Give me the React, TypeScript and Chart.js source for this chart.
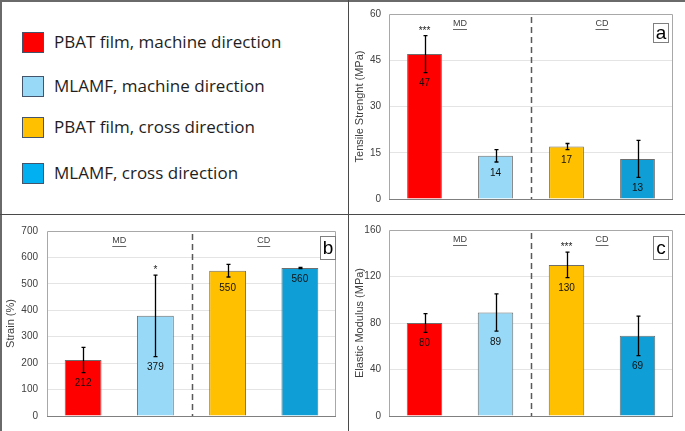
import React, { useEffect, useRef } from 'react';
import { Chart, registerables } from 'chart.js';

Chart.register(...registerables);

// Samples, in the order they are plotted in every panel
const seriesLabels = [
  'PBAT film, machine direction',
  'MLAMF, machine direction',
  'PBAT film, cross direction',
  'MLAMF, cross direction',
];
const barColors = ['#FF0000', '#97D9F6', '#FFC000', '#0F9ED5'];
const legendColors = ['#FF0000', '#97D9F6', '#FFC000', '#00B0F0'];
const groupLabels = ['MD', 'CD'];

// (a) tensile strength, MPa
const tensileMean = [47, 14, 17, 13];
const tensileErr = [6, 2, 1, 6];
const tensileSig = ['***', '', '', ''];

// (b) strain at break, %
const strainMean = [212, 379, 550, 560];
const strainErr = [48, 154, 24, 2];
const strainSig = ['', '*', '', ''];

// (c) elastic modulus, MPa
const modulusMean = [80, 89, 130, 69];
const modulusErr = [8, 16, 11, 17];
const modulusSig = ['', '', '***', ''];

const FONT = "'Liberation Sans', Arial, sans-serif";

type PanelSpec = {
  letter: string;
  title: string;
  mean: number[];
  err: number[];
  sig: string[];
  max: number;
  step: number;
  barPct: number;
  left: number;
  top: number;
  width: number;
  height: number;
  yWidth: number;
  padTop: number;
  tickPad: number;
  box: { w: number; h: number; dx: number; dy: number };
};

const panels: PanelSpec[] = [
  {
    letter: 'a', title: 'Tensile Strenght (MPa)',
    mean: tensileMean, err: tensileErr, sig: tensileSig,
    max: 60, step: 15, barPct: 0.49,
    left: 349, top: 0, width: 336, height: 214,
    yWidth: 40, padTop: 14, tickPad: 8,
    box: { w: 15, h: 19, dx: 5, dy: 9 },
  },
  {
    letter: 'b', title: 'Strain (%)',
    mean: strainMean, err: strainErr, sig: strainSig,
    max: 700, step: 100, barPct: 0.51,
    left: 0, top: 215, width: 348, height: 216,
    yWidth: 47, padTop: 16, tickPad: 9,
    box: { w: 15, h: 23, dx: 1, dy: 5 },
  },
  {
    letter: 'c', title: 'Elastic Modulus (MPa)',
    mean: modulusMean, err: modulusErr, sig: modulusSig,
    max: 160, step: 40, barPct: 0.5,
    left: 349, top: 215, width: 336, height: 216,
    yWidth: 40, padTop: 15, tickPad: 8,
    box: { w: 15, h: 23, dx: 5, dy: 6 },
  },
];

function makeDecor(spec: PanelSpec) {
  return {
    id: 'panelDecor' + spec.letter,
    beforeDatasetsDraw(chart: any) {
      const { ctx, chartArea: a, scales } = chart;
      const x = scales.x;
      ctx.save();
      // plot frame
      ctx.lineWidth = 1;
      ctx.strokeStyle = '#A8A8A8';
      ctx.beginPath();
      ctx.moveTo(a.left + 0.5, a.bottom);
      ctx.lineTo(a.left + 0.5, a.top + 0.5);
      ctx.lineTo(a.right - 0.5, a.top + 0.5);
      ctx.lineTo(a.right - 0.5, a.bottom);
      ctx.stroke();
      ctx.strokeStyle = '#7F7F7F';
      ctx.beginPath();
      ctx.moveTo(a.left, a.bottom + 0.5);
      ctx.lineTo(a.right, a.bottom + 0.5);
      ctx.stroke();
      // dashed separator between machine and cross direction
      const mid = (x.getPixelForValue(1) + x.getPixelForValue(2)) / 2;
      ctx.strokeStyle = '#595959';
      ctx.lineWidth = 1.5;
      ctx.setLineDash([6, 4]);
      ctx.beginPath();
      ctx.moveTo(Math.round(mid) + 0.5, a.top + 3);
      ctx.lineTo(Math.round(mid) + 0.5, a.bottom);
      ctx.stroke();
      ctx.setLineDash([]);
      ctx.restore();
    },
    afterDatasetsDraw(chart: any) {
      const { ctx, chartArea: a, scales } = chart;
      const x = scales.x;
      const y = scales.y;
      const meta = chart.getDatasetMeta(0);
      ctx.save();
      meta.data.forEach((bar: any, i: number) => {
        const v = spec.mean[i];
        const e = spec.err[i];
        const yt = y.getPixelForValue(v + e);
        const yb = y.getPixelForValue(v - e);
        const bx = Math.round(bar.x) + 0.5;
        ctx.strokeStyle = '#000';
        ctx.lineWidth = 1.3;
        ctx.beginPath();
        ctx.moveTo(bx, yt);
        ctx.lineTo(bx, yb);
        ctx.moveTo(bx - 2, yt);
        ctx.lineTo(bx + 2, yt);
        ctx.moveTo(bx - 2, yb);
        ctx.lineTo(bx + 2, yb);
        ctx.stroke();
        // value label under the lower whisker
        ctx.fillStyle = '#111';
        ctx.font = '10px ' + FONT;
        ctx.textAlign = 'center';
        ctx.textBaseline = 'middle';
        ctx.fillText(String(v), bar.x, yb + 11);
        // significance marks above the upper whisker
        if (spec.sig[i]) {
          ctx.fillStyle = '#222';
          ctx.font = '10px ' + FONT;
          ctx.textBaseline = 'alphabetic';
          ctx.fillText(spec.sig[i], bar.x, yt - 2);
        }
      });
      // group headings
      const groups = [
        (x.getPixelForValue(0) + x.getPixelForValue(1)) / 2,
        (x.getPixelForValue(2) + x.getPixelForValue(3)) / 2,
      ];
      ctx.font = '9px ' + FONT;
      ctx.fillStyle = '#404040';
      ctx.strokeStyle = '#404040';
      ctx.lineWidth = 0.8;
      ctx.textAlign = 'center';
      ctx.textBaseline = 'middle';
      groups.forEach((gx, gi) => {
        const ty = a.top + 10;
        ctx.fillText(groupLabels[gi], gx, ty);
        const w = ctx.measureText(groupLabels[gi]).width;
        ctx.beginPath();
        ctx.moveTo(gx - w / 2, ty + 5.5);
        ctx.lineTo(gx + w / 2, ty + 5.5);
        ctx.stroke();
      });
      // panel letter
      const b = spec.box;
      const rx = Math.round(a.right - b.dx - b.w) + 0.5;
      const ry = Math.round(a.top + b.dy) + 0.5;
      ctx.fillStyle = '#fff';
      ctx.fillRect(rx, ry, b.w, b.h);
      ctx.strokeStyle = '#7F7F7F';
      ctx.lineWidth = 1;
      ctx.strokeRect(rx, ry, b.w, b.h);
      ctx.fillStyle = '#000';
      ctx.font = '19px ' + FONT;
      ctx.textAlign = 'center';
      ctx.textBaseline = 'middle';
      ctx.fillText(spec.letter, rx + b.w / 2, ry + b.h / 2 + 1);
      ctx.restore();
    },
  };
}

function BarPanel({ spec }: { spec: PanelSpec }) {
  const ref = useRef<HTMLCanvasElement | null>(null);
  useEffect(() => {
    if (!ref.current) return;
    const max = spec.max;
    const chart = new Chart(ref.current, {
      type: 'bar',
      data: {
        labels: seriesLabels,
        datasets: [
          {
            data: spec.mean,
            backgroundColor: barColors,
            borderColor: '#6E6E6E',
            borderWidth: 1,
            categoryPercentage: 1,
            barPercentage: spec.barPct,
          },
        ],
      },
      options: {
        responsive: false,
        animation: false,
        devicePixelRatio: 1,
        layout: { padding: { left: 0, top: spec.padTop, right: 12, bottom: 15 } },
        plugins: { legend: { display: false }, tooltip: { enabled: false } },
        scales: {
          x: {
            type: 'category',
            ticks: { display: false },
            grid: { display: false },
            border: { display: false },
            afterFit: (s: any) => { s.height = 0; },
          },
          y: {
            min: 0,
            max,
            afterFit: (s: any) => { s.width = spec.yWidth; },
            ticks: {
              stepSize: spec.step,
              padding: spec.tickPad,
              color: '#404040',
              font: { family: FONT, size: 10 },
            },
            grid: {
              drawTicks: false,
              lineWidth: 1,
              color: (c: any) =>
                c.tick && (c.tick.value === 0 || c.tick.value === max) ? 'rgba(0,0,0,0)' : '#E4E4E4',
            },
            border: { display: false },
            title: {
              display: true,
              text: spec.title,
              color: '#404040',
              font: { family: FONT, size: 11 },
              padding: { top: 4, bottom: 0 },
            },
          },
        },
      },
      plugins: [makeDecor(spec)],
    } as any);
    return () => chart.destroy();
  }, [spec]);
  return (
    <div style={{ position: 'absolute', left: spec.left, top: spec.top, width: spec.width, height: spec.height }}>
      <canvas ref={ref} width={spec.width} height={spec.height} style={{ display: 'block' }} />
    </div>
  );
}

const legendRows = [41.5, 85.5, 126.5, 173];

function LegendPanel() {
  return (
    <div style={{ position: 'absolute', left: 0, top: 0, width: 348, height: 214 }}>
      {seriesLabels.map((label, i) => (
        <div key={label}>
          <div
            style={{
              position: 'absolute',
              left: 22,
              top: legendRows[i] - 10,
              width: 20,
              height: 19,
              background: legendColors[i],
              border: '1px solid #44546A',
            }}
          />
          <div
            style={{
              position: 'absolute',
              left: 54,
              top: legendRows[i] - 12,
              height: 24,
              lineHeight: '24px',
              fontFamily: "'Open Sans', sans-serif",
              fontSize: 17,
              color: '#1E1E1E',
              whiteSpace: 'nowrap',
            }}
          >
            {label}
          </div>
        </div>
      ))}
    </div>
  );
}

export default function App() {
  useEffect(() => {
    document.body.style.margin = '0';
    document.body.style.background = '#fff';
  }, []);
  const line = '#6A6A6A';
  return (
    <div style={{ position: 'absolute', left: 0, top: 0, width: 685, height: 431, background: '#fff', overflow: 'hidden' }}>
      <LegendPanel />
      {panels.map((p) => (
        <BarPanel key={p.letter} spec={p} />
      ))}
      {/* panel frame */}
      <div style={{ position: 'absolute', left: 0, top: 0, width: 685, height: 2, background: line }} />
      <div style={{ position: 'absolute', left: 0, top: 0, width: 2, height: 431, background: line }} />
      <div style={{ position: 'absolute', left: 347.5, top: 0, width: 1.5, height: 431, background: '#4A4A4A' }} />
      <div style={{ position: 'absolute', left: 0, top: 213.5, width: 685, height: 1.5, background: '#4A4A4A' }} />
    </div>
  );
}
